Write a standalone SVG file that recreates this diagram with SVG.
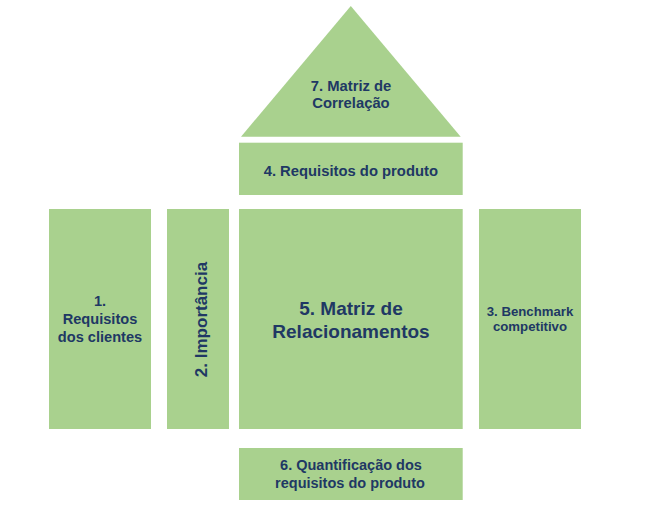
<svg xmlns="http://www.w3.org/2000/svg" width="661" height="517" viewBox="0 0 661 517">
<style>
.box{fill:#A9D18E;stroke:none}
.t{font-family:"Liberation Sans",Arial,sans-serif;font-weight:bold;fill:#203864;text-anchor:middle}
</style>
<rect width="661" height="517" fill="#ffffff"/>
<g id="node7">
<polygon class="box" points="350.8,6 241,136.7 460.7,136.7"/>
<text class="t" font-size="14.8" x="351" y="90.5">7. Matriz de</text>
<text class="t" font-size="14.8" x="351" y="108.3">Correlação</text>
</g>
<g id="node4">
<rect class="box" x="239" y="142.7" width="223.7" height="52.3"/>
<text class="t" font-size="14.8" x="350.8" y="176.3">4. Requisitos do produto</text>
</g>
<g id="node1">
<rect class="box" x="49" y="209" width="102" height="220"/>
<text class="t" font-size="14.6" x="100" y="305.7">1.</text>
<text class="t" font-size="14.6" x="100" y="323.5">Requisitos</text>
<text class="t" font-size="14.6" x="100" y="341.5">dos clientes</text>
</g>
<g id="node2">
<rect class="box" x="167" y="209" width="62" height="220"/>
<text class="t" font-size="17" transform="translate(206.5,319.5) rotate(-90)" x="0" y="0">2. Importância</text>
</g>
<g id="node5">
<rect class="box" x="239" y="209" width="223.7" height="220"/>
<text class="t" font-size="19" x="351" y="315">5. Matriz de</text>
<text class="t" font-size="19" x="351" y="337.7">Relacionamentos</text>
</g>
<g id="node3">
<rect class="box" x="479" y="209" width="102" height="220"/>
<text class="t" font-size="13.2" x="530" y="316">3. Benchmark</text>
<text class="t" font-size="13.2" x="530" y="330.7">competitivo</text>
</g>
<g id="node6">
<rect class="box" x="239" y="448" width="223.7" height="52"/>
<text class="t" font-size="14.5" x="351" y="470">6. Quantificação dos</text>
<text class="t" font-size="14.5" x="350" y="487.7">requisitos do produto</text>
</g>
<g id="connectors"></g>
</svg>
